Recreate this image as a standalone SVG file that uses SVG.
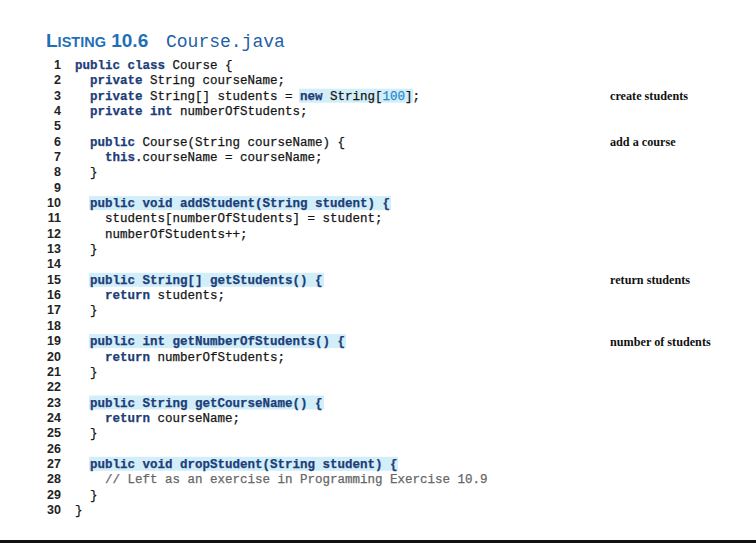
<svg xmlns="http://www.w3.org/2000/svg" width="756" height="544" viewBox="0 0 756 544">
<style>
.c{font-family:"Liberation Mono","DejaVu Sans Mono",monospace;font-size:12.5px;fill:#151515;stroke:#151515;stroke-width:0.25}
.k{font-weight:bold;fill:#1d3d78;stroke:#1d3d78}
.n{font-family:"Liberation Sans",Arial,sans-serif;font-weight:bold;font-size:12.5px;fill:#222;text-anchor:end}
.h{fill:#d2eef8}
.a{font-family:"Liberation Serif","Times New Roman",serif;font-weight:bold;font-size:12.2px;fill:#111}
.cm{fill:#666;stroke:#666}
.num{fill:#2a8ad0;stroke:#2a8ad0}
</style>
<rect width="756" height="544" fill="#fff"/>
<g id="title">
<text x="46" y="47" font-family="Liberation Sans,Arial,sans-serif" font-weight="bold" fill="#1f6fb8"><tspan font-size="19">L</tspan><tspan font-size="14.5">ISTING</tspan><tspan font-size="19"> 10.6</tspan></text>
<text x="166" y="47" font-family="Liberation Mono,monospace" font-size="18" fill="#1f5fa8">Course.java</text>
</g>
<g id="highlights">
<rect class="h" x="299" y="88.7" width="114" height="14"/>
<rect class="h" x="89" y="196.1" width="302" height="14"/>
<rect class="h" x="89" y="272.8" width="235" height="14"/>
<rect class="h" x="89" y="334.1" width="257" height="14"/>
<rect class="h" x="89" y="395.5" width="235" height="14"/>
<rect class="h" x="89" y="456.8" width="309" height="14"/>
</g>
<g id="linenums">
<text class="n" x="61" y="69">1</text><text class="n" x="61" y="84.3">2</text><text class="n" x="61" y="99.7">3</text><text class="n" x="61" y="115">4</text><text class="n" x="61" y="130.4">5</text><text class="n" x="61" y="145.7">6</text><text class="n" x="61" y="161">7</text><text class="n" x="61" y="176.4">8</text><text class="n" x="61" y="191.7">9</text><text class="n" x="61" y="207.1">10</text><text class="n" x="61" y="222.4">11</text><text class="n" x="61" y="237.7">12</text><text class="n" x="61" y="253.1">13</text><text class="n" x="61" y="268.4">14</text><text class="n" x="61" y="283.8">15</text><text class="n" x="61" y="299.1">16</text><text class="n" x="61" y="314.4">17</text><text class="n" x="61" y="329.8">18</text><text class="n" x="61" y="345.1">19</text><text class="n" x="61" y="360.5">20</text><text class="n" x="61" y="375.8">21</text><text class="n" x="61" y="391.1">22</text><text class="n" x="61" y="406.5">23</text><text class="n" x="61" y="421.8">24</text><text class="n" x="61" y="437.2">25</text><text class="n" x="61" y="452.5">26</text><text class="n" x="61" y="467.8">27</text><text class="n" x="61" y="483.2">28</text><text class="n" x="61" y="498.5">29</text><text class="n" x="61" y="513.9">30</text>
</g>
<g id="code" xml:space="preserve">
<text class="c" x="75" y="69"><tspan class="k">public class</tspan> Course {</text>
<text class="c" x="90" y="84.3"><tspan class="k">private</tspan> String courseName;</text>
<text class="c" x="90" y="99.7"><tspan class="k">private</tspan> String[] students = <tspan class="k">new</tspan> String[<tspan class="num">100</tspan>];</text>
<text class="c" x="90" y="115"><tspan class="k">private int</tspan> numberOfStudents;</text>
<text class="c" x="90" y="145.7"><tspan class="k">public</tspan> Course(String courseName) {</text>
<text class="c" x="105" y="161"><tspan class="k">this</tspan>.courseName = courseName;</text>
<text class="c" x="90" y="176.4">}</text>
<text class="c k" x="90" y="207.1">public void addStudent(String student) {</text>
<text class="c" x="105" y="222.4">students[numberOfStudents] = student;</text>
<text class="c" x="105" y="237.7">numberOfStudents++;</text>
<text class="c" x="90" y="253.1">}</text>
<text class="c k" x="90" y="283.8">public String[] getStudents() {</text>
<text class="c" x="105" y="299.1"><tspan class="k">return</tspan> students;</text>
<text class="c" x="90" y="314.4">}</text>
<text class="c k" x="90" y="345.1">public int getNumberOfStudents() {</text>
<text class="c" x="105" y="360.5"><tspan class="k">return</tspan> numberOfStudents;</text>
<text class="c" x="90" y="375.8">}</text>
<text class="c k" x="90" y="406.5">public String getCourseName() {</text>
<text class="c" x="105" y="421.8"><tspan class="k">return</tspan> courseName;</text>
<text class="c" x="90" y="437.2">}</text>
<text class="c k" x="90" y="467.8">public void dropStudent(String student) {</text>
<text class="c cm" x="105" y="483.2">// Left as an exercise in Programming Exercise 10.9</text>
<text class="c" x="90" y="498.5">}</text>
<text class="c" x="75" y="513.9">}</text>
</g>
<g id="notes">
<text class="a" x="610" y="100">create students</text>
<text class="a" x="610" y="146">add a course</text>
<text class="a" x="610" y="284">return students</text>
<text class="a" x="610" y="346">number of students</text>
</g>
<rect x="0" y="540" width="756" height="3" fill="#111"/>
</svg>
